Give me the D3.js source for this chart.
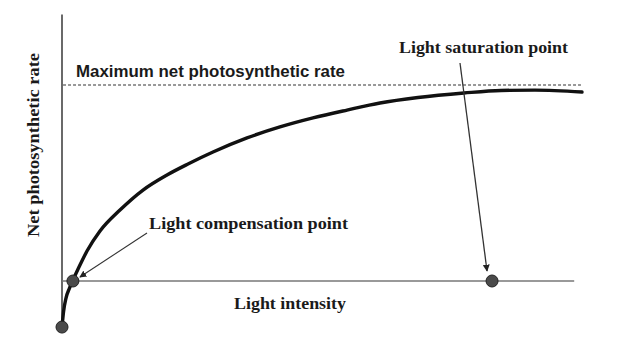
<!DOCTYPE html>
<html><head><meta charset="utf-8">
<script src="https://cdn.jsdelivr.net/npm/d3@7"></script>
<style>body{margin:0;background:#fff;}svg{display:block;}</style>
</head><body>
<script>
// Light intensity (arbitrary units) and net photosynthetic rate (% of max)
const lightIntensity = [0, 2.9, 7.7, 14.4, 21.2, 32.7, 48.1, 73.1, 111.5, 155.8, 201.9, 242.3, 290.4, 355.8, 419.2, 482.7, 548.1, 611.5, 684.6, 773.1, 844.2, 909.6, 1000];
const netRate        = [-23.5, -15.8, -8.7, -3.6, 0.5, 7.1, 15.3, 25.5, 36.2, 46.4, 54.1, 59.7, 65.8, 73.0, 78.6, 83.2, 87.2, 90.8, 93.6, 95.9, 97.2, 97.4, 96.4];
const maxRate = 100;
const keyPointNames = ["dark respiration", "Light compensation point", "Light saturation point"];
const keyPointX = [0, 21, 827];
const keyPointY = [-23.5, 0, 0];
const xAxisEnd = 985;
const yAxisRange = [-20, 136];
const labels = {
  max: "Maximum net photosynthetic rate",
  sat: "Light saturation point",
  comp: "Light compensation point",
  xTitle: "Light intensity",
  yTitle: "Net photosynthetic rate"
};

const W = 638, H = 344;
const svg = d3.select("body").append("svg").attr("width", W).attr("height", H);
const x = d3.scaleLinear().domain([0, 1000]).range([62, 582]);
const y = d3.scaleLinear().domain([0, 100]).range([281, 85]);

const defs = svg.append("defs");
defs.append("marker").attr("id", "arr").attr("viewBox", "0 0 10 10")
  .attr("refX", 9).attr("refY", 5).attr("markerWidth", 7).attr("markerHeight", 7)
  .attr("markerUnits", "userSpaceOnUse").attr("orient", "auto")
  .append("path").attr("d", "M0,0 L10,5 L0,10 z").attr("fill", "#222");

// axes
svg.append("line").attr("x1", x(0)).attr("x2", x(0))
  .attr("y1", y(yAxisRange[1])).attr("y2", y(yAxisRange[0]))
  .attr("stroke", "#444").attr("stroke-width", 1.6);
svg.append("line").attr("x1", x(0)).attr("x2", x(xAxisEnd))
  .attr("y1", y(0)).attr("y2", y(0))
  .attr("stroke", "#777").attr("stroke-width", 1.5);

// max dashed line
svg.append("line").attr("x1", x(2)).attr("x2", x(998))
  .attr("y1", y(maxRate)).attr("y2", y(maxRate))
  .attr("stroke", "#333").attr("stroke-width", 1.1).attr("stroke-dasharray", "3,2");

// curve
const pts = lightIntensity.map((v, i) => [v, netRate[i]]);
svg.append("path").datum(pts)
  .attr("d", d3.line().x(d => x(d[0])).y(d => y(d[1])).curve(d3.curveMonotoneX))
  .attr("fill", "none").attr("stroke", "#111").attr("stroke-width", 3.4)
  .attr("stroke-linecap", "round");

// dots
svg.selectAll("circle.kp").data(keyPointX).join("circle").attr("class", "kp")
  .attr("cx", d => x(d)).attr("cy", (d, i) => y(keyPointY[i])).attr("r", 6)
  .attr("fill", "#4a4a4a").attr("stroke", "#222").attr("stroke-width", 1);

// arrows
svg.append("line").attr("x1", 147).attr("y1", 233)
  .attr("x2", x(keyPointX[1]) + 7).attr("y2", y(keyPointY[1]) - 4)
  .attr("stroke", "#333").attr("stroke-width", 1.1).attr("marker-end", "url(#arr)");
svg.append("line").attr("x1", 460).attr("y1", 63)
  .attr("x2", x(keyPointX[2]) - 5).attr("y2", y(keyPointY[2]) - 10)
  .attr("stroke", "#333").attr("stroke-width", 1.3).attr("marker-end", "url(#arr)");

// texts
const sans = "'Liberation Sans', Arial, sans-serif";
const serif = "'Liberation Serif', 'DejaVu Serif', serif";
function txt(s, xx, yy, family, size, len) {
  return svg.append("text").attr("x", xx).attr("y", yy).text(s)
    .attr("font-family", family).attr("font-weight", "bold").attr("font-size", size)
    .attr("fill", "#1a1a1a").attr("textLength", len).attr("lengthAdjust", "spacingAndGlyphs");
}
txt(labels.max, 76, 77, sans, 17, 269);
txt(labels.sat, 399, 53, serif, 17, 169);
txt(labels.comp, 149, 229, serif, 17, 199);
txt(labels.xTitle, 234, 309, serif, 17, 112);
svg.append("text").attr("transform", "translate(38.5,145) rotate(-90)")
  .attr("text-anchor", "middle").text(labels.yTitle)
  .attr("font-family", serif).attr("font-weight", "bold").attr("font-size", 16)
  .attr("fill", "#1a1a1a").attr("textLength", 184).attr("lengthAdjust", "spacingAndGlyphs");
</script>
</body></html>
